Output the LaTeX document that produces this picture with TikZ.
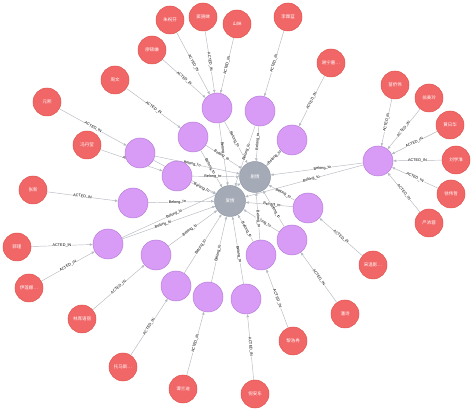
\documentclass[tikz,border=0pt]{standalone}
\usepackage{fontspec}
\setmainfont{Liberation Sans}
\newfontfamily\cjk{Noto Sans CJK SC}
\usetikzlibrary{arrows.meta}
\pgfdeclarelayer{bg}
\pgfsetlayers{bg,main}
\definecolor{pred}{HTML}{F16667}
\definecolor{predb}{HTML}{E0564F}
\definecolor{ppur}{HTML}{D89BF6}
\definecolor{ppurb}{HTML}{B77FD9}
\definecolor{pgray}{HTML}{A5ABB6}
\definecolor{pgrayb}{HTML}{9199A6}
\definecolor{edgec}{HTML}{B5B9C0}
\tikzset{
 person/.style={circle, fill=pred, draw=predb, line width=0.5pt, minimum size=28pt, inner sep=0pt, text=white, font=\cjk\fontsize{4.5}{5}\selectfont},
 movie/.style={circle, fill=ppur, draw=ppurb, line width=0.5pt, minimum size=30pt, inner sep=0pt},
 genre/.style={circle, fill=pgray, draw=pgrayb, line width=0.5pt, minimum size=31pt, inner sep=0pt, text=white, font=\cjk\fontsize{4.5}{5}\selectfont},
 rel/.style={draw=edgec, line width=0.45pt, -{Triangle[length=3pt,width=2.4pt]}},
 rlab/.style={sloped, fill=white, inner sep=0.3pt, font=\fontsize{3.8}{4}\selectfont, text=black}
}
\begin{document}
\begin{tikzpicture}[x=1pt,y=-1pt]
\useasboundingbox (0,0) rectangle (474,411);
% genres
\node[genre] (g1) at (255,177) {剧情};
\node[genre] (g2) at (230,201) {爱情};
% movies
\node[movie] (m1) at (217,108) {};
\node[movie] (m2) at (260,111) {};
\node[movie] (m3) at (292,140) {};
\node[movie] (m4) at (193,137) {};
\node[movie] (m5) at (140,153) {};
\node[movie] (m6) at (177,176) {};
\node[movie] (m7) at (133,203) {};
\node[movie] (m8) at (108,244) {};
\node[movie] (m9) at (156,255) {};
\node[movie] (m10) at (378,161) {};
\node[movie] (m11) at (308,208) {};
\node[movie] (m12) at (292,240) {};
\node[movie] (m13) at (261,255) {};
\node[movie] (m14) at (176,286) {};
\node[movie] (m15) at (208,297) {};
\node[movie] (m16) at (246,299) {};
% persons
\node[person] (a1) at (170,20) {朱祝芬};
\node[person] (a2) at (203,17) {窦骁娣};
\node[person] (a3) at (237,24) {山妹};
\node[person] (a4) at (288,17) {李霖蓝};
\node[person] (a5) at (152,50) {廖硕嫌};
\node[person] (a6) at (115,80) {周文};
\node[person] (a7) at (47,102) {元熙};
\node[person] (a8) at (331,63) {谢宁嘉…};
\node[person] (a9) at (395,85) {苗侨伟};
\node[person] (a10) at (429,98) {翁美玲};
\node[person] (a11) at (450,125) {黄日华};
\node[person] (a12) at (87,145) {冯丹莹};
\node[person] (a13) at (33,190) {张新};
\node[person] (a14) at (456,160) {刘学淮};
\node[person] (a15) at (451,194) {徐伟哲};
\node[person] (a16) at (429,223) {严浓蓉};
\node[person] (a17) at (17,247) {郭瑾};
\node[person] (a18) at (29,288) {伊莲娜…};
\node[person] (a19) at (82,319) {林席语丽};
\node[person] (a20) at (123,367) {托马斯…};
\node[person] (a21) at (183,389) {谭兰迪};
\node[person] (a22) at (255,394) {倪安东};
\node[person] (a23) at (293,341) {黎浩冉};
\node[person] (a24) at (345,314) {潘诗};
\node[person] (a25) at (373,265) {宋温影…};
\begin{pgfonlayer}{bg}
\foreach \s/\t in {a1/m1,a2/m1,a3/m1,a5/m1,a4/m2,a8/m3,a6/m4,a7/m5,a12/m6,a13/m7,a17/m8,a18/m8,a19/m9,a9/m10,a10/m10,a11/m10,a14/m10,a15/m10,a16/m10,a25/m11,a24/m12,a23/m13,a20/m14,a21/m15,a22/m16}
  \draw[rel] (\s) -- node[rlab,pos=0.5]{ACTED\_IN} (\t);
\foreach \s/\t in {m1/g1,m1/g2,m2/g1,m2/g2,m3/g1,m4/g1,m4/g2,m5/g1,m5/g2,m6/g1,m6/g2,m7/g2,m8/g1,m8/g2,m9/g2,m10/g1,m10/g2,m11/g1,m11/g2,m12/g1,m12/g2,m13/g1,m13/g2,m14/g2,m15/g2,m16/g2}
  \draw[rel] (\s) -- node[rlab,pos=0.44]{Belong\_to} (\t);
\end{pgfonlayer}
\end{tikzpicture}
\end{document}
